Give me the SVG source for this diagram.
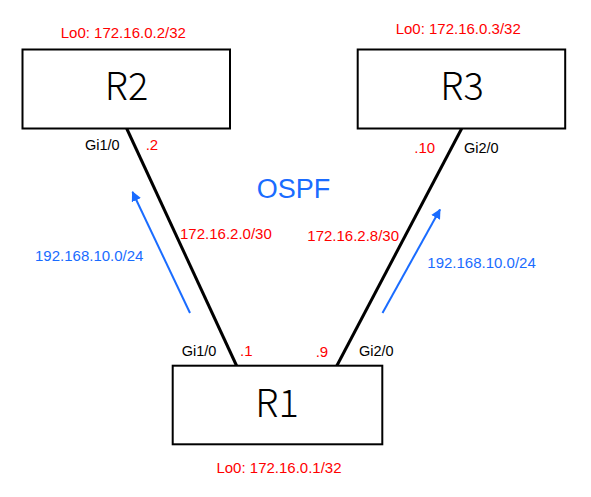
<svg xmlns="http://www.w3.org/2000/svg" width="591" height="497" viewBox="0 0 591 497">
<defs>
<style>
.box{fill:#fff;stroke:#000;stroke-width:2}
.name{font-family:"Noto Sans CJK JP","Noto Sans",sans-serif;font-weight:300;font-size:38px;fill:#000;text-anchor:middle}
.red{font-family:"Liberation Sans",Arial,sans-serif;font-size:15px;fill:#FF0000}
.blk{font-family:"Liberation Sans",Arial,sans-serif;font-size:14.5px;fill:#000}
.blue{font-family:"Liberation Sans",Arial,sans-serif;font-size:15px;fill:#1A6CFF}
.link{stroke:#000;stroke-width:3;fill:none}
.flow{stroke:#1A6CFF;stroke-width:2;fill:none}
</style>
<marker id="ah" viewBox="0 0 10 10" refX="9" refY="5" markerWidth="5" markerHeight="5" orient="auto" markerUnits="strokeWidth">
<path d="M0,0 L10,5 L0,10 z" fill="#1A6CFF"/>
</marker>
</defs>
<rect width="591" height="497" fill="#fff"/>
<g id="connectors">
<line class="link" x1="126.7" y1="128.5" x2="236.7" y2="366"/>
<line class="link" x1="461.7" y1="128.5" x2="336.7" y2="366"/>
<line class="flow" x1="190" y1="313" x2="132.5" y2="192" marker-end="url(#ah)"/>
<line class="flow" x1="382.5" y1="313" x2="440" y2="209.5" marker-end="url(#ah)"/>
</g>
<g id="R2">
<rect class="box" x="22.5" y="49.5" width="207.5" height="79"/>
<text class="name" x="126.5" y="100">R2</text>
<text class="red" x="123.3" y="37.7" text-anchor="middle">Lo0: 172.16.0.2/32</text>
</g>
<g id="R3">
<rect class="box" x="357.7" y="49.5" width="207.5" height="79"/>
<text class="name" x="462" y="100">R3</text>
<text class="red" x="458.2" y="34.3" text-anchor="middle">Lo0: 172.16.0.3/32</text>
</g>
<g id="R1">
<rect class="box" x="172.7" y="365.7" width="209.6" height="78.6"/>
<text class="name" x="277" y="416.7">R1</text>
<text class="red" x="279" y="473.3" text-anchor="middle">Lo0: 172.16.0.1/32</text>
</g>
<g id="labels">
<text class="blk" x="85" y="150">Gi1/0</text>
<text class="red" x="145.7" y="150">.2</text>
<text class="red" x="414.3" y="152.7">.10</text>
<text class="blk" x="464" y="152.7">Gi2/0</text>
<text x="256.7" y="198.3" font-family="Liberation Sans, Arial, sans-serif" font-size="27" fill="#1A6CFF">OSPF</text>
<text class="red" x="180" y="239.3">172.16.2.0/30</text>
<text class="blue" x="35" y="260.7">192.168.10.0/24</text>
<text class="red" x="307.3" y="240.7">172.16.2.8/30</text>
<text class="blue" x="427.3" y="268.3">192.168.10.0/24</text>
<text class="blk" x="181.7" y="355.7">Gi1/0</text>
<text class="red" x="240" y="355.7">.1</text>
<text class="red" x="315.7" y="357.3">.9</text>
<text class="blk" x="359" y="355.7">Gi2/0</text>
</g>
</svg>
